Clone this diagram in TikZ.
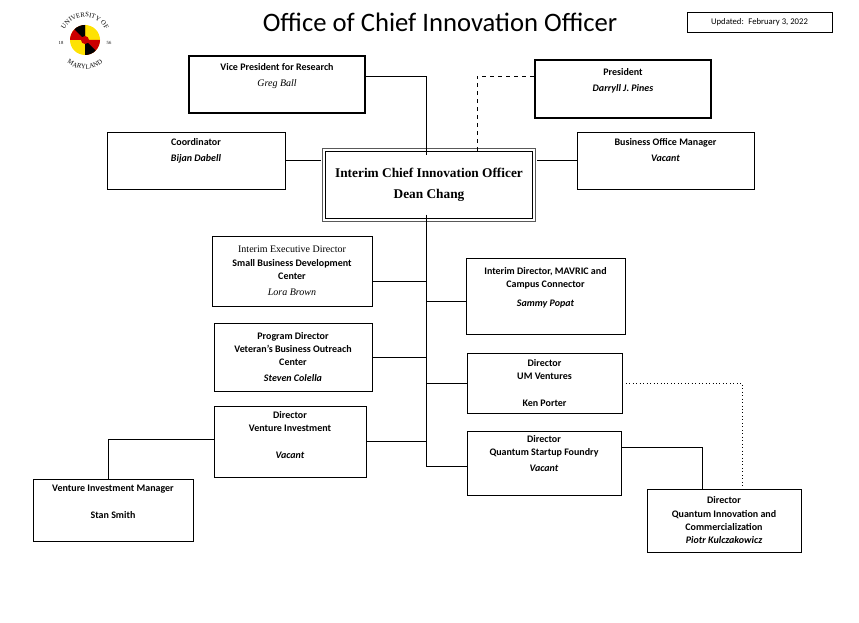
\documentclass[tikz,border=0pt]{standalone}
\usepackage{fontspec}
\setmainfont{Carlito}
\newfontfamily\serif{Liberation Serif}
\usetikzlibrary{decorations.text}
\tikzset{
  box/.style={draw, rectangle, line width=0.6pt, align=center, font=\fontsize{7.5}{10}\selectfont\bfseries, inner sep=2pt},
  heavybox/.style={box, line width=2pt},
  link/.style={line width=0.6pt},
}
\begin{document}
\begin{tikzpicture}[x=0.75pt,y=-0.75pt]
\useasboundingbox (0,0) rectangle (859,623);
% title and date
\node[font=\fontsize{20}{24}\selectfont] (title) at (440,22) {Office of Chief Innovation Officer};
\node[box, font=\fontsize{6.5}{8}\selectfont, minimum width=108.75pt, minimum height=15pt] (date) at (759.5,22) {Updated:~ February 3, 2022};
% logo
\fill[yellow!85!orange] (85,40) circle (15);
\fill[red!80!black] (85,40) -- (100,40) arc (0:90:15) -- cycle;
\fill[red!80!black] (85,40) -- (70,40) arc (180:270:15) -- cycle;
\fill[black] (85,40) -- (85,25) arc (270:225:15) -- cycle;
\fill[black] (85,40) -- (85,55) arc (90:45:15) -- cycle;
\fill[red!80!black] (85,40) circle (4);
\path[decorate, decoration={text along path, text={|\fontsize{5}{6}\selectfont\serif|UNIVERSITY OF}, text align=center}] (62,40) arc (180:360:23);
\path[decorate, decoration={text along path, text={|\fontsize{5}{6}\selectfont\serif|MARYLAND}, text align=center}] (56,40) arc (180:0:29);
\node[font=\fontsize{3.5}{4}\selectfont\serif, inner sep=0pt] (yr1) at (61,43) {18};
\node[font=\fontsize{3.5}{4}\selectfont\serif, inner sep=0pt] (yr2) at (109,43) {56};
% boxes
\node[heavybox, minimum width=132pt, minimum height=42.75pt] (vp) at (277,84.5) {Vice President for Research\\[2pt] \serif\itshape\mdseries Greg Ball\\[4pt]};
\node[heavybox, minimum width=132pt, minimum height=43.5pt] (pres) at (623,89) {President\\[2pt] \itshape Darryll J. Pines\\[4pt]};
\node[box, minimum width=133.5pt, minimum height=42.75pt] (coord) at (196,160.5) {Coordinator\\[2pt] \itshape Bijan Dabell\\[6pt]};
\node[box, minimum width=132.75pt, minimum height=42.75pt] (bom) at (665.5,160.5) {Business Office Manager\\[2pt] \itshape Vacant\\[6pt]};
\node[draw, line width=0.6pt, minimum width=155pt, minimum height=50pt, align=center, font=\serif\fontsize{10}{16}\selectfont\bfseries] (cio) at (429,185) {Interim Chief Innovation Officer\\ Dean Chang};
\draw[line width=1pt, gray!70!black] ([shift={(-3,-3)}]cio.north west) rectangle ([shift={(3,3)}]cio.south east);
\node[box, minimum width=120pt, minimum height=52.5pt] (sbdc) at (292,271) {{\serif\mdseries Interim Executive Director}\\ Small Business Development\\ Center\\[2pt] \serif\itshape\mdseries Lora Brown};
\node[box, minimum width=119.25pt, minimum height=57pt] (mavric) at (545.5,296) {Interim Director, MAVRIC and\\ Campus Connector\\[4pt] \itshape Sammy Popat\\[4pt]};
\node[box, minimum width=118.5pt, minimum height=51pt] (vboc) at (293,357) {Program Director\\ Veteran's Business Outreach\\ Center\\[2pt] \itshape Steven Colella};
\node[box, minimum width=116.25pt, minimum height=45pt] (umv) at (544.5,383) {Director\\ UM Ventures\\[10pt] Ken Porter};
\node[box, minimum width=114pt, minimum height=53.25pt] (vi) at (290,441.5) {Director\\ Venture Investment\\[10pt] \itshape Vacant\\[0pt]};
\node[box, minimum width=115.5pt, minimum height=48pt] (qsf) at (544,463) {Director\\ Quantum Startup Foundry\\[2pt] \itshape Vacant\\[4pt]};
\node[box, minimum width=120pt, minimum height=46.5pt] (vim) at (113,510) {Venture Investment Manager\\[10pt] Stan Smith\\[2pt]};
\node[box, minimum width=115.5pt, minimum height=47.25pt] (qic) at (724,520.5) {Director\\ Quantum Innovation and\\ Commercialization\\ \itshape Piotr Kulczakowicz};
% connectors
\coordinate (trunk) at (426,466);
\draw[link] (vp.east |- 0,76) -| ([yshift=-3]cio.north -| trunk);
\draw[link, dashed] (pres.west |- 0,76) -| ([yshift=-3]cio.north -| 477,0);
\draw[link] (coord) -- ([xshift=-3]coord -| cio.west);
\draw[link] (bom) -- ([xshift=3]bom -| cio.east);
\draw[link] ([yshift=3]cio.south -| trunk) -- (trunk);
\draw[link] (sbdc.east |- 0,281) -- (426,281);
\draw[link] (vboc) -- (vboc -| trunk);
\draw[link] (vi) -- (vi -| trunk);
\draw[link] (426,301) -- (mavric.west |- 0,301);
\draw[link] (umv.west) -- (umv.west -| trunk);
\draw[link] (trunk) -- (trunk -| qsf.west);
\draw[link] (vi.west |- 0,439) -| (vim.north -| 108,0);
\draw[link] (qsf.east |- 0,447) -| (qic.north -| 702,0);
\draw[link, dotted] (umv.east) -| (qic.north -| 742,0);
\end{tikzpicture}
\end{document}
